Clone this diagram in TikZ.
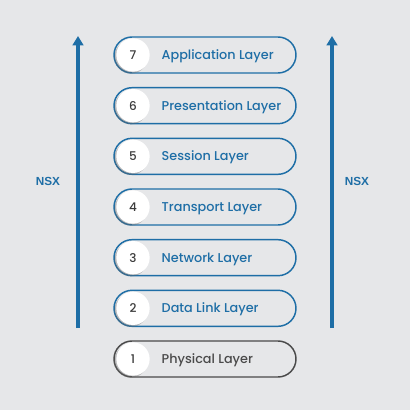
\documentclass[tikz,border=0pt]{standalone}
\usepackage{fontspec}
\setmainfont{Poppins}
\newfontfamily\popmed{Poppins Medium}
\newfontfamily\nsxfont{Liberation Sans Bold}
\usetikzlibrary{shadows,arrows.meta}
\definecolor{bg}{HTML}{E6E7E9}
\definecolor{osiblue}{HTML}{1E6EA6}
\definecolor{numgray}{HTML}{3A3A3A}
\definecolor{physgray}{HTML}{4A4A4A}
\tikzset{
  pill/.style={draw=#1, line width=1.1pt, rounded corners=13.5pt, minimum width=136.5pt, minimum height=27pt, inner sep=0pt},
  numcirc/.style={circle, fill=white, minimum size=25pt, inner sep=0pt, text=numgray, font=\popmed\fontsize{9}{10}\selectfont,
    drop shadow={shadow xshift=-1.5pt, shadow yshift=-1.5pt, opacity=0.35, fill=black!60}},
  lbl/.style={anchor=west, font=\popmed\fontsize{9.6}{11}\selectfont, text=#1, yshift=-1pt},
  uparrow/.style={draw=osiblue, line width=2.3pt, -{Triangle[length=7pt,width=8pt]}},
  nsx/.style={font=\nsxfont\fontsize{8.8}{10}\selectfont, text=osiblue}
}
\begin{document}
\begin{tikzpicture}[x=0.75pt,y=-0.75pt]
\fill[bg] (0,0) rectangle (410,410);
\useasboundingbox (0,0) rectangle (410,410);
\foreach \n/\t/\y/\c in {7/Application Layer/55/osiblue,6/Presentation Layer/105.7/osiblue,5/Session Layer/156.3/osiblue,4/Transport Layer/207/osiblue,3/Network Layer/257.7/osiblue,2/Data Link Layer/308.3/osiblue,1/Physical Layer/359/physgray}{
  \node[pill=\c] (p\n) at (205,\y) {};
  \node[numcirc] (c\n) at (133,\y) {\n};
  \node[lbl=\c] (l\n) at (157,\y) {\t};
}
\coordinate (la0) at (78,328);
\coordinate (la1) at (78,36);
\coordinate (ra0) at (332,328);
\coordinate (ra1) at (332,36);
\draw[uparrow] (la0) -- (la1);
\draw[uparrow] (ra0) -- (ra1);
\node[nsx] (nl) at (48,181) {NSX};
\node[nsx] (nr) at (357,181) {NSX};
\end{tikzpicture}
\end{document}
